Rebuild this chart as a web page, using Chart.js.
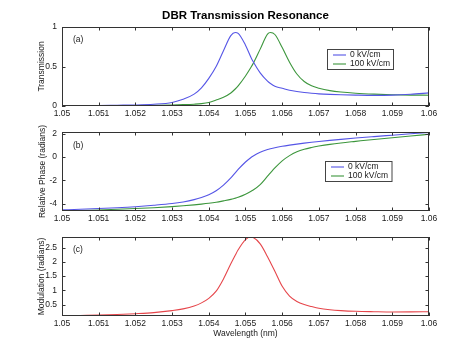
<!DOCTYPE html>
<html>
<head>
<meta charset="utf-8">
<script src="https://cdn.jsdelivr.net/npm/chart.js@4/dist/chart.umd.min.js"></script>
<style>
html,body{margin:0;padding:0;background:#fff;}
#wrap{position:relative;width:474px;height:355px;background:#fff;}
#wrap canvas{position:absolute;left:0;top:0;}
</style>
</head>
<body>
<div id="wrap">
<canvas id="c1" width="474" height="355"></canvas>
<canvas id="c2" width="474" height="355"></canvas>
<canvas id="c3" width="474" height="355"></canvas>
</div>
<script>
// ---------- data ----------
const wavelength = [1.0500, 1.0505, 1.0510, 1.0515, 1.0520, 1.0525, 1.0530, 1.0533, 1.0536, 1.0538,
  1.0540, 1.0542, 1.0544, 1.0546, 1.05472, 1.0548, 1.0550, 1.05515, 1.0552, 1.0554,
  1.0556, 1.05568, 1.0558, 1.0560, 1.0562, 1.0564, 1.0566, 1.0568, 1.0570, 1.0573,
  1.0576, 1.0580, 1.0585, 1.0590, 1.0595, 1.0600];

const transmission0 = [0.003, 0.005, 0.007, 0.010, 0.013, 0.022, 0.045, 0.085, 0.15, 0.23,
  0.35, 0.50, 0.70, 0.89, 0.93, 0.92, 0.77, 0.615, 0.57, 0.42,
  0.315, 0.285, 0.25, 0.225, 0.20, 0.183, 0.17, 0.161, 0.154, 0.147,
  0.142, 0.138, 0.135, 0.138, 0.149, 0.166];

const transmission100 = [0.001, 0.002, 0.003, 0.004, 0.006, 0.009, 0.013, 0.017, 0.023, 0.030,
  0.045, 0.075, 0.11, 0.165, 0.215, 0.255, 0.38, 0.49, 0.53, 0.72,
  0.91, 0.93, 0.905, 0.74, 0.555, 0.405, 0.31, 0.255, 0.225, 0.195,
  0.177, 0.162, 0.15, 0.142, 0.138, 0.137];

const phase0 = [-4.545, -4.49, -4.43, -4.36, -4.27, -4.15, -4.00, -3.86, -3.66, -3.48,
  -3.24, -2.90, -2.42, -1.80, -1.36, -1.07, -0.43, -0.04, 0.07, 0.41,
  0.64, 0.71, 0.80, 0.92, 1.02, 1.11, 1.19, 1.265, 1.335, 1.43,
  1.52, 1.63, 1.755, 1.875, 1.995, 2.115];

const phase100 = [-4.64, -4.60, -4.55, -4.495, -4.43, -4.355, -4.26, -4.19, -4.11, -4.05,
  -3.98, -3.89, -3.77, -3.64, -3.535, -3.46, -3.20, -2.95, -2.86, -2.37,
  -1.65, -1.36, -0.94, -0.33, 0.12, 0.45, 0.67, 0.82, 0.94, 1.09,
  1.21, 1.345, 1.51, 1.65, 1.80, 1.96];

const modulation = [0.11, 0.12, 0.13, 0.15, 0.18, 0.22, 0.29, 0.35, 0.45, 0.56,
  0.72, 0.97, 1.40, 1.93, 2.23, 2.42, 2.78, 2.87, 2.86, 2.63,
  2.18, 1.98, 1.67, 1.14, 0.80, 0.61, 0.50, 0.43, 0.37, 0.32,
  0.29, 0.265, 0.25, 0.24, 0.243, 0.25];

const seriesLabels = ["0 kV/cm", "100 kV/cm"];
const xTicks = [1.05, 1.051, 1.052, 1.053, 1.054, 1.055, 1.056, 1.057, 1.058, 1.059, 1.06];
const xTickLabels = ["1.05", "1.051", "1.052", "1.053", "1.054", "1.055", "1.056", "1.057", "1.058", "1.059", "1.06"];
const yTicksA = [0, 0.5, 1];
const yLabelsA = ["0", "0.5", "1"];
const yTicksB = [-4, -2, 0, 2];
const yLabelsB = ["-4", "-2", "0", "2"];
const yTicksC = [0.5, 1, 1.5, 2, 2.5];
const yLabelsC = ["0.5", "1", "1.5", "2", "2.5"];

// ---------- styling ----------
Chart.defaults.font.family = '"Liberation Sans", Arial, Helvetica, sans-serif';
Chart.defaults.font.size = 8.5;
Chart.defaults.color = '#1a1a1a';

const BLUE = 'rgb(85,85,230)';
const GREEN = 'rgb(60,150,60)';
const RED = 'rgb(230,70,75)';

const matlabAxes = {
  id: 'matlabAxes',
  afterDatasetsDraw(chart, args, opts) {
    const ctx = chart.ctx, a = chart.chartArea, sx = chart.scales.x, sy = chart.scales.y;
    const tl = 3.5;
    ctx.save();
    ctx.strokeStyle = '#333';
    ctx.lineWidth = 1;
    ctx.beginPath();
    sx.ticks.forEach(t => {
      const px = Math.round(sx.getPixelForValue(t.value)) + 0.5;
      ctx.moveTo(px, a.bottom); ctx.lineTo(px, a.bottom - tl);
      ctx.moveTo(px, a.top); ctx.lineTo(px, a.top + tl);
    });
    sy.ticks.forEach(t => {
      const py = Math.round(sy.getPixelForValue(t.value)) + 0.5;
      ctx.moveTo(a.left, py); ctx.lineTo(a.left + tl, py);
      ctx.moveTo(a.right, py); ctx.lineTo(a.right - tl, py);
    });
    ctx.stroke();
    ctx.strokeRect(a.left + 0.5, a.top + 0.5, a.right - a.left - 1, a.bottom - a.top - 1);
    // panel label
    ctx.fillStyle = '#1a1a1a';
    ctx.font = '8.5px "Liberation Sans", Arial, sans-serif';
    ctx.textBaseline = 'middle';
    ctx.textAlign = 'left';
    ctx.fillText(opts.panel, a.left + opts.panelDx, a.top + opts.panelDy);
    // legend
    if (opts.legend) {
      const L = opts.legend;
      const bx = Math.round(a.left + L.dx) + 0.5, by = Math.round(a.top + L.dy) + 0.5;
      ctx.fillStyle = '#fff';
      ctx.fillRect(bx, by, L.w, L.h);
      ctx.strokeStyle = '#444';
      ctx.strokeRect(bx, by, L.w, L.h);
      chart.data.datasets.forEach((ds, i) => {
        const ry = by + L.row0 + i * L.rowGap;
        ctx.strokeStyle = ds.borderColor;
        ctx.lineWidth = 1.1;
        ctx.beginPath();
        ctx.moveTo(bx + 5.5, ry); ctx.lineTo(bx + 18.5, ry);
        ctx.stroke();
        ctx.fillStyle = '#1a1a1a';
        ctx.fillText(ds.label, bx + 22.5, ry);
      });
    }
    ctx.restore();
  }
};

function pts(ys) { return wavelength.map((w, i) => ({ x: w, y: ys[i] })); }

function makeChart(id, cfg) {
  return new Chart(document.getElementById(id), {
    type: 'line',
    data: { datasets: cfg.datasets },
    options: {
      responsive: false,
      animation: false,
      devicePixelRatio: 1,
      layout: { padding: cfg.padding },
      elements: {
        point: { radius: 0 },
        line: { borderWidth: 1.1, cubicInterpolationMode: 'monotone', fill: false }
      },
      plugins: {
        legend: { display: false },
        tooltip: { enabled: false },
        title: cfg.title || { display: false },
        matlabAxes: cfg.axes
      },
      scales: {
        x: {
          type: 'linear', min: 1.05, max: 1.06,
          grid: { display: false, drawTicks: false },
          border: { display: false },
          afterBuildTicks: s => { s.ticks = xTicks.map(v => ({ value: v })); },
          ticks: { autoSkip: false, maxRotation: 0, padding: 3, callback: (v, i) => xTickLabels[i] },
          title: cfg.xTitle || { display: false },
          afterFit: s => { s.height = cfg.xAxisHeight; }
        },
        y: {
          type: 'linear', min: cfg.yMin, max: cfg.yMax,
          grid: { display: false, drawTicks: false },
          border: { display: false },
          afterBuildTicks: s => { s.ticks = cfg.yTicks.map(v => ({ value: v })); },
          ticks: { autoSkip: false, padding: 5, callback: (v, i) => cfg.yLabels[i] },
          title: { display: true, text: cfg.yTitle, font: { size: 8.5 }, padding: { top: cfg.yTitlePad, bottom: 0 } },
          afterFit: s => { s.width = 62; }
        }
      }
    },
    plugins: [matlabAxes]
  });
}

makeChart('c1', {
  datasets: [
    { label: seriesLabels[0], data: pts(transmission0), borderColor: BLUE },
    { label: seriesLabels[1], data: pts(transmission100), borderColor: GREEN }
  ],
  padding: { top: 0, left: 0, right: 45, bottom: 355 - 106 - 20 },
  xAxisHeight: 20,
  title: { display: true, text: 'DBR Transmission Resonance', color: '#000', fullSize: false,
           font: { size: 11.5, weight: 'bold' }, padding: { top: 9, bottom: 4.2 } },
  yMin: 0, yMax: 1, yTicks: yTicksA, yLabels: yLabelsA,
  yTitle: 'Transmission', yTitlePad: 36.6,
  axes: { panel: '(a)', panelDx: 11, panelDy: 13,
          legend: { dx: 265, dy: 22, w: 66, h: 20, row0: 5.5, rowGap: 9 } }
});

makeChart('c2', {
  datasets: [
    { label: seriesLabels[0], data: pts(phase0), borderColor: BLUE },
    { label: seriesLabels[1], data: pts(phase100), borderColor: GREEN }
  ],
  padding: { top: 132, left: 0, right: 45, bottom: 355 - 211 - 20 },
  xAxisHeight: 20,
  yMin: -4.64, yMax: 2.15, yTicks: yTicksB, yLabels: yLabelsB,
  yTitle: 'Relative Phase (radians)', yTitlePad: 37.5,
  axes: { panel: '(b)', panelDx: 11, panelDy: 14,
          legend: { dx: 263, dy: 28.5, w: 66.5, h: 20, row0: 5.5, rowGap: 9 } }
});

makeChart('c3', {
  datasets: [
    { label: 'Modulation', data: pts(modulation), borderColor: RED }
  ],
  padding: { top: 237, left: 0, right: 45, bottom: 355 - 316 - 30 },
  xAxisHeight: 30,
  xTitle: { display: true, text: 'Wavelength (nm)', font: { size: 8.5 }, padding: { top: 0, bottom: 7.6 } },
  yMin: 0.1, yMax: 2.87, yTicks: yTicksC, yLabels: yLabelsC,
  yTitle: 'Modulation (radians)', yTitlePad: 36.6,
  axes: { panel: '(c)', panelDx: 11, panelDy: 13, legend: null }
});
</script>
</body>
</html>
